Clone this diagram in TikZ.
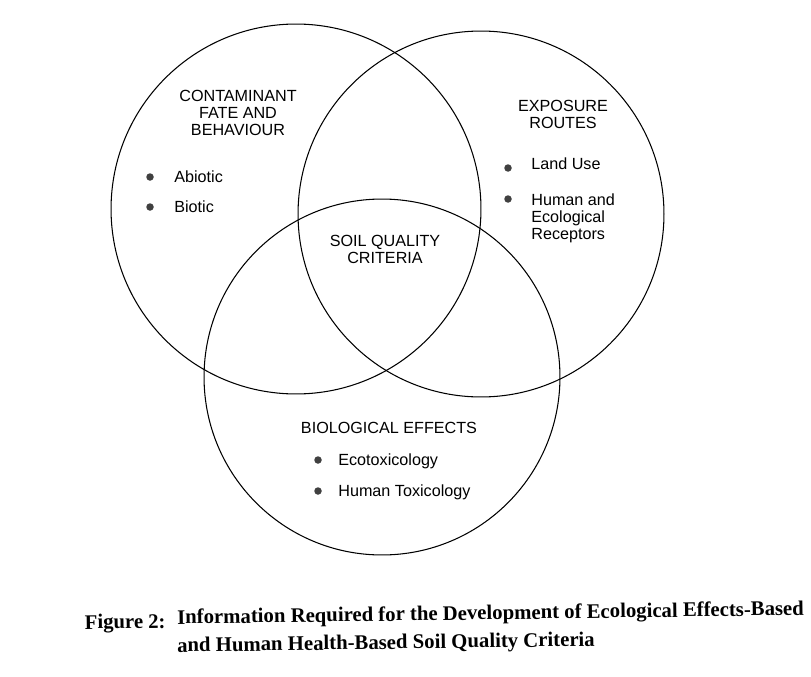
\documentclass[tikz,border=0pt]{standalone}
\usepackage{fontspec}
\setmainfont{Liberation Serif}
\setsansfont{Liberation Sans}
\begin{document}
\begin{tikzpicture}[x=0.02cm,y=-0.02cm,
  ring/.style={circle,draw,line width=0.6pt,inner sep=0pt},
  head/.style={align=center,inner sep=0pt,font=\sffamily\fontsize{9.2}{9.7}\selectfont},
  itm/.style={anchor=base west,inner sep=0pt,font=\sffamily\fontsize{9.2}{9.7}\selectfont},
  dot/.style={circle,fill=black!75,inner sep=0pt,minimum size=0.15cm},
  capt/.style={anchor=base west,inner sep=0pt,rotate=0.8,font=\bfseries\fontsize{11.8}{13}\selectfont}]
\useasboundingbox (0,0) rectangle (811,676);
\node[ring,minimum size=7.4cm] (L) at (296,209) {};
\node[ring,minimum size=7.32cm] (R) at (481,214) {};
\node[ring,minimum size=7.12cm] (B) at (382,377) {};
\node[head] (fate) at (238,113) {CONTAMINANT\\FATE AND\\BEHAVIOUR};
\node[dot] (d1) at (150,177) {};
\node[itm] (abio) at (174,182.5) {Abiotic};
\node[dot] (d2) at (150,207) {};
\node[itm] (bio) at (174,212.5) {Biotic};
\node[head] (routes) at (563,114) {EXPOSURE\\ROUTES};
\node[dot] (d3) at (508,168) {};
\node[itm] (land) at (531,169) {Land Use};
\node[dot] (d4) at (508,199) {};
\node[itm,anchor=north west,align=left] (recep) at (531,193.4) {Human and\\Ecological\\Receptors};
\node[head] (sqc) at (385,249) {SOIL QUALITY\\CRITERIA};
\node[head] (effects) at (389,428) {BIOLOGICAL EFFECTS};
\node[dot] (d5) at (318,460) {};
\node[itm] (ecotox) at (338,465.5) {Ecotoxicology};
\node[dot] (d6) at (318,491) {};
\node[itm] (humtox) at (338,496.5) {Human Toxicology};
\node[capt,anchor=base east] (fig) at (166,628) {Figure 2:};
\node[capt] (cap1) at (177,624) {Information Required for the Development of Ecological Effects-Based};
\node[capt] (cap2) at (177,652) {and Human Health-Based Soil Quality Criteria};
\end{tikzpicture}
\end{document}
